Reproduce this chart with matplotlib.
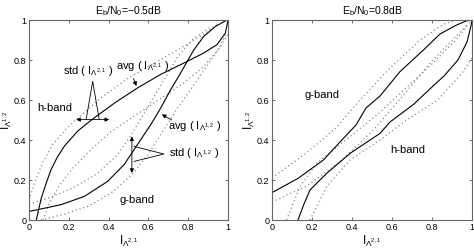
import matplotlib
matplotlib.use('Agg')
import matplotlib.pyplot as plt

plt.rcParams['font.family'] = ['Liberation Sans', 'DejaVu Sans']
plt.rcParams['mathtext.fontset'] = 'custom'
plt.rcParams['mathtext.rm'] = 'Liberation Sans'
plt.rcParams['mathtext.it'] = 'Liberation Sans'

# left panel, Eb/N0 = -0.5 dB
l_avg21_x = [0.037, 0.05, 0.062, 0.085, 0.11, 0.14, 0.178, 0.245, 0.32, 0.43, 0.545, 0.66, 0.795, 0.878, 0.945, 0.987, 1.0]
l_avg21_y = [0.0, 0.06, 0.11, 0.18, 0.25, 0.31, 0.37, 0.445, 0.505, 0.585, 0.66, 0.727, 0.793, 0.835, 0.877, 0.935, 1.0]
l_avg12_x = [0.0, 0.045, 0.162, 0.278, 0.395, 0.478, 0.545, 0.612, 0.662, 0.712, 0.762, 0.795, 0.828, 0.878, 0.937, 0.995]
l_avg12_y = [0.043, 0.052, 0.077, 0.118, 0.193, 0.277, 0.377, 0.477, 0.56, 0.652, 0.735, 0.793, 0.85, 0.918, 0.968, 1.0]
l_std21_hi_x = [0.0, 0.03, 0.07, 0.12, 0.19, 0.27, 0.36, 0.50, 0.64, 0.78, 0.88, 0.95]
l_std21_hi_y = [0.10, 0.19, 0.29, 0.38, 0.46, 0.53, 0.61, 0.71, 0.79, 0.87, 0.93, 0.98]
l_std21_lo_x = [0.07, 0.10, 0.15, 0.22, 0.31, 0.41, 0.53, 0.65, 0.77, 0.87, 0.95, 0.99]
l_std21_lo_y = [0.0, 0.08, 0.17, 0.26, 0.35, 0.44, 0.52, 0.60, 0.68, 0.76, 0.85, 0.93]
l_std12_hi_x = [0.0, 0.10, 0.22, 0.34, 0.44, 0.51, 0.57, 0.63, 0.69, 0.75, 0.83, 0.92]
l_std12_hi_y = [0.08, 0.11, 0.16, 0.23, 0.32, 0.42, 0.52, 0.62, 0.72, 0.82, 0.91, 0.97]
l_std12_lo_x = [0.06, 0.18, 0.30, 0.42, 0.52, 0.60, 0.67, 0.74, 0.81, 0.88, 0.95, 1.0]
l_std12_lo_y = [0.0, 0.03, 0.07, 0.14, 0.23, 0.33, 0.44, 0.55, 0.65, 0.75, 0.85, 0.93]

# right panel, Eb/N0 = 0.8 dB
r_up_x = [0.0, 0.13, 0.257, 0.34, 0.42, 0.47, 0.54, 0.64, 0.757, 0.84, 0.923, 0.97, 1.0]
r_up_y = [0.137, 0.208, 0.30, 0.39, 0.475, 0.56, 0.62, 0.742, 0.85, 0.93, 0.975, 0.995, 1.0]
r_lo_x = [0.13, 0.16, 0.19, 0.273, 0.39, 0.54, 0.59, 0.71, 0.80, 0.86, 0.93, 0.975, 0.995, 1.0]
r_lo_y = [0.0, 0.08, 0.15, 0.233, 0.333, 0.433, 0.49, 0.58, 0.665, 0.72, 0.80, 0.89, 0.97, 1.0]
r_d1_x = [0.0, 0.165, 0.32, 0.44, 0.59, 0.74, 0.86, 0.92]
r_d1_y = [0.21, 0.33, 0.46, 0.60, 0.76, 0.90, 0.98, 1.0]
r_d2_x = [0.0, 0.173, 0.34, 0.507, 0.662, 0.795, 0.912, 0.978]
r_d2_y = [0.09, 0.17, 0.29, 0.45, 0.63, 0.79, 0.91, 0.977]
r_d3_x = [0.073, 0.14, 0.223, 0.39, 0.53, 0.67, 0.80, 0.92, 0.99]
r_d3_y = [0.0, 0.167, 0.283, 0.417, 0.53, 0.66, 0.78, 0.90, 0.99]
r_d4_x = [0.19, 0.273, 0.39, 0.54, 0.673, 0.828, 0.945, 1.0]
r_d4_y = [0.0, 0.167, 0.30, 0.40, 0.50, 0.60, 0.727, 0.81]

ticks = [0, 0.2, 0.4, 0.6, 0.8, 1]
tick_labels = ['0', '0.2', '0.4', '0.6', '0.8', '1']

xlab = r'I$_{\Lambda^{\mathregular{2,1}}}$'
ylab = r'I$_{\Lambda^{\mathregular{1,2}}}$'

fig = plt.figure(figsize=(4.74, 2.52), dpi=100)
ax1 = fig.add_axes([29 / 474, 32 / 252, 199 / 474, 200 / 252])
ax2 = fig.add_axes([272 / 474, 32 / 252, 200 / 474, 200 / 252])

dot = dict(color='#8a8a8a', lw=0.9, ls=(0, (1, 2.2)))
sol = dict(color='black', lw=0.8)

for ax in (ax1, ax2):
    ax.set_xlim(0, 1)
    ax.set_ylim(0, 1)
    ax.set_xticks(ticks)
    ax.set_xticklabels(tick_labels)
    ax.set_yticks(ticks)
    ax.set_yticklabels(tick_labels)
    ax.tick_params(direction='in', length=2.5, width=0.6, top=True, right=True,
                   labelsize=6.5, pad=2, color='#555555')
    for s in ax.spines.values():
        s.set_color('#666666')
        s.set_linewidth(0.8)
    ax.set_xlabel(xlab, fontsize=8.5)
    ax.set_ylabel(ylab, fontsize=8.5)
    ax.xaxis.set_label_coords(0.5, -0.07)
    ax.yaxis.set_label_coords(-0.075, 0.5)

# left
ax1.plot(l_std21_hi_x, l_std21_hi_y, **dot)
ax1.plot(l_std21_lo_x, l_std21_lo_y, **dot)
ax1.plot(l_std12_hi_x, l_std12_hi_y, **dot)
ax1.plot(l_std12_lo_x, l_std12_lo_y, **dot)
ax1.plot(l_avg21_x, l_avg21_y, **sol)
ax1.plot(l_avg12_x, l_avg12_y, **sol)
ax1.set_title('E$_\\mathregular{b}$/N$_\\mathregular{0}$=\u22120.5dB', fontsize=7.5, pad=4)

ax1.text(0.13, 0.56, 'h-band', fontsize=8, ha='center', va='center')
ax1.text(0.545, 0.10, 'g-band', fontsize=8, ha='center', va='center')
ax1.text(0.57, 0.77, r'avg ( I$_{\Lambda^{\mathregular{2,1}}}$ )', fontsize=8, ha='center', va='center')
ax1.text(0.295, 0.745, r'std ( I$_{\Lambda^{\mathregular{2,1}}}$ )', fontsize=8, ha='center', va='center')
ax1.text(0.835, 0.47, r'avg ( I$_{\Lambda^{\mathregular{1,2}}}$ )', fontsize=8, ha='center', va='center')
ax1.text(0.83, 0.335, r'std ( I$_{\Lambda^{\mathregular{1,2}}}$ )', fontsize=8, ha='center', va='center')

arr = dict(arrowstyle='-|>', color='black', lw=0.6, mutation_scale=6)
ax1.annotate('', xy=(0.545, 0.657), xytext=(0.52, 0.72), arrowprops=arr)
ax1.annotate('', xy=(0.655, 0.535), xytext=(0.73, 0.493), arrowprops=arr)
# std triangles and double arrows
ax1.plot([0.287, 0.32, 0.353], [0.502, 0.693, 0.502], color='black', lw=0.6)
ax1.plot([0.528, 0.678, 0.528], [0.368, 0.33, 0.293], color='black', lw=0.6)
darr = dict(arrowstyle='<|-|>', color='black', lw=0.6, mutation_scale=6, shrinkA=0, shrinkB=0)
ax1.annotate('', xy=(0.237, 0.502), xytext=(0.403, 0.502), arrowprops=darr)
ax1.annotate('', xy=(0.517, 0.418), xytext=(0.517, 0.235), arrowprops=darr)

# right
ax2.plot(r_d1_x, r_d1_y, **dot)
ax2.plot(r_d2_x, r_d2_y, **dot)
ax2.plot(r_d3_x, r_d3_y, **dot)
ax2.plot(r_d4_x, r_d4_y, **dot)
ax2.plot(r_up_x, r_up_y, **sol)
ax2.plot(r_lo_x, r_lo_y, **sol)
ax2.set_title('E$_\\mathregular{b}$/N$_\\mathregular{0}$=0.8dB', fontsize=7.5, pad=4)
ax2.text(0.25, 0.623, 'g-band', fontsize=8, ha='center', va='center')
ax2.text(0.68, 0.352, 'h-band', fontsize=8, ha='center', va='center')

fig.savefig('out.png', dpi=100)
